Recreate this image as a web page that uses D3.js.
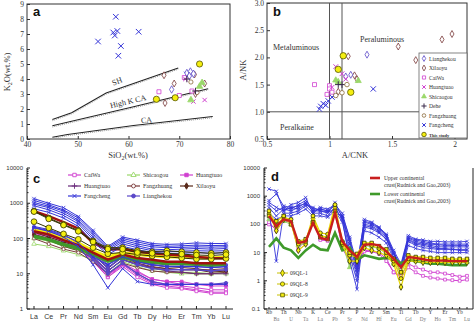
<!DOCTYPE html>
<html>
<head>
<meta charset="utf-8">
<title>Granite geochemistry</title>
<script src="https://d3js.org/d3.v7.min.js"></script>
<style>
  body { margin: 0; background: #fff; }
  svg { display: block; }
  text { font-family: "Liberation Serif", "DejaVu Serif", serif; fill: #333; }
  .sans { font-family: "Liberation Sans", Arial, sans-serif; }
  .axis path, .axis line { stroke: #333; }
</style>
</head>
<body>
<script>
var W = 474, H = 324;
var svg = d3.select("body").append("svg").attr("width", W).attr("height", H);

// ---------- data ----------
// panel a: SiO2 vs K2O
var siFangcheng = [[54,6.5],[57.5,8.15],[57,7.1],[57.3,6.9],[57.8,7.2],[62,7.15],[58.5,6.2],[58,5.55],[71.5,4.3]];
var siLianghekou = [[68.5,3.3],[71.5,4.4],[72.2,4.5],[72.8,4.35],[72,4.2]];
var siXilaoyu = [[67,4.25],[69,3.7],[67.2,2.4],[73.2,3.0],[75,3.7],[73,4.3]];
var siCaiWa = [[66,3.15],[72.5,3.2],[70,2.9],[71,4.1]];
var siHuangtuao = [[72.8,2.5],[75,2.6],[71.2,4.0]];
var siShicaogou = [[72.3,2.6],[74,3.5],[74.5,3.75]];
var siDehe = [[71.5,4.0],[73.2,3.2]];
var siFangzhuang = [[72.3,3.8],[73.5,3.1]];
var siThisStudy = [[65.5,2.65],[69.2,2.75],[74,5.0]];
var lineSH = [[45,1.3],[48.8,1.75],[55.6,3.07],[69.8,4.73]];
var lineHKCA = [[45,0.88],[49,1.2],[61,2.15],[75.7,3.35]];
var lineCA = [[45,0.12],[48,0.3],[61,0.9],[76.6,1.5]];

// panel b: A/CNK vs A/NK
var acXilaoyu = [[1.55,2.2],[1.69,1.95],[1.9,2.33],[1.98,2.43],[1.15,2.02],[1.2,1.67],[1.22,1.6],[1.07,1.37]];
var acLianghekou = [[1.3,2.05],[1.13,1.65],[1.17,1.68]];
var acCaiWa = [[0.88,1.5],[1.0,1.48],[1.0,1.42],[0.98,1.32],[1.02,1.36]];
var acHuangtuao = [[1.05,1.83],[1.1,1.7],[1.13,1.6],[1.02,1.45]];
var acShicaogou = [[1.05,1.58],[1.23,1.57],[1.07,1.55]];
var acDehe = [[1.07,1.5],[1.1,1.5]];
var acFangzhuang = [[1.14,1.5],[1.1,1.35],[1.05,1.3]];
var acFangcheng = [[1.35,1.42],[0.95,1.15],[0.92,1.05],[0.97,1.12],[0.99,1.2],[1.02,1.27],[1.04,1.3],[0.93,1.1]];
var acThisStudy = [[1.11,2.03],[1.07,1.78],[1.17,1.36]];

// panel c: chondrite-normalised REE
var ree = ["La","Ce","Pr","Nd","Sm","Eu","Gd","Tb","Dy","Ho","Er","Tm","Yb","Lu"];
var reeFangcheng = [
  [1350,1000,750,420,170,60,110,90,72,68,70,75,72,72],
  [1200,900,650,380,150,55,100,80,65,60,62,65,63,64],
  [1050,820,600,330,130,50,90,70,58,55,56,58,57,58],
  [950,750,520,300,110,45,80,62,50,48,50,52,50,52],
  [850,650,450,260,95,40,70,55,45,42,44,45,44,45],
  [700,550,380,220,80,35,60,48,40,38,38,40,38,40],
  [220,180,130,75,30,18,30,22,18,16,16,16,15,16],
  [200,160,110,60,18,4,14,6,5,5,5,5,5,5]];
var reeLianghekou = [
  [200,170,120,80,40,18,35,25,20,18,18,18,17,18],
  [180,150,100,70,35,15,30,22,18,16,16,16,15,16],
  [160,130,90,60,30,12,25,18,14,13,13,13,12,13],
  [210,160,110,65,25,10,20,10,6,5,5,5,5,5.5]];
var reeXilaoyu = [
  [150,110,80,60,40,15,30,22,18,16,15,14,12,12],
  [130,100,70,55,30,12,25,18,15,14,13,13,11,12]];
var reeFangzhuang = [
  [120,90,60,45,28,12,25,20,16,14,13,13,13,14],
  [100,70,50,40,22,10,20,15,12,11,11,10,10,11]];
var reeRed = [
  [600,430,290,190,75,48,50,42,38,35,33,30,28,27],
  [160,130,90,65,40,25,35,28,25,22,22,20,20,20]];
var reeCaiWa = [
  [180,140,100,70,30,9,20,10,6,5,4.5,4,3.5,3.5],
  [160,120,90,60,25,8,18,9,5.5,4.5,4,3.5,3,3],
  [140,110,80,55,22,8,16,8,5,4,3.8,3.2,2.8,2.8]];
var reeHuangtuao = [
  [150,120,85,60,28,10,20,12,7,6,6,5,5,5],
  [130,100,75,50,25,9,18,11,7,6,5,5,4.5,4.5]];
var reeDehe = [[170,130,95,65,35,14,30,20,15,12,11,10,10,10]];
var reeShicaogou = [
  [100,85,60,45,30,12,25,18,14,12,11,11,10,11],
  [70,60,45,35,25,10,22,16,12,11,10,10,10,10]];
var reeGreen = [
  [120,95,70,55,40,25,30,25,22,20,20,19,18,19],
  [110,90,65,50,35,22,28,23,21,19,19,18,17,18]];
var reeYellowBand = [[180,140,100,75,45,30,40,35,32,30,30,29,28,30]];
var reeThisStudy = [
  [600,380,250,170,85,55,55,45,42,45,42,40,38,40],
  [300,200,135,95,55,37,40,35,32,30,28,26,26,27],
  [580,360,240,160,80,50,50,40,38,38,36,34,33,35]];

// panel d: primitive-mantle-normalised trace elements
var trace = ["Rb","Ba","Th","U","Nb","Ta","K","La","Ce","Pb","Pr","Sr","P","Nd","Zr","Hf","Sm","Eu","Ti","Gd","Tb","Dy","Y","Ho","Er","Tm","Yb","Lu"];
var trFangcheng = [
  [1800,1500,300,500,600,900,250,400,350,500,250,30,3,150,120,80,45,12,4,40,30,28,25,25,24,24,24,25],
  [500,300,400,350,500,700,350,350,300,450,200,20,2,120,100,70,40,10,3,35,28,25,22,20,20,20,20,20],
  [400,200,350,300,400,600,300,300,250,600,180,12,1.5,100,90,60,35,9,3,30,22,20,18,16,16,16,16,16],
  [300,5,250,250,300,450,250,250,200,400,150,5,0.5,80,70,50,30,7,2,25,18,15,14,13,13,13,13,13],
  [600,400,300,400,350,500,400,300,280,350,160,25,2.5,90,80,55,30,9,3,28,20,18,16,14,14,13,12,12],
  [250,150,200,200,250,350,200,200,180,300,120,8,1,60,50,35,22,6,2,18,14,12,11,10,10,10,10,10],
  [700,1200,450,400,450,550,300,350,300,250,200,35,4,130,110,75,40,10,3.5,33,25,22,20,19,18,18,18,18]];
var trCaiWa = [
  [100,70,150,150,15,25,150,30,30,300,15,6,4,12,12,10,6,2,1.5,4,3,2.5,2,2,1.8,1.6,1.4,1.5],
  [120,60,130,120,12,20,130,28,26,280,14,5,3,11,11,9,5,2,1.3,3,2,1.5,1.3,1.2,1.1,1.05,1,1.1]];
var trShicaogou = [[150,110,130,100,18,22,140,40,35,350,22,3,6,18,16,14,9,4,2,6,5,5,4.5,4.5,4.5,4.5,4.5,4.5]];
var trUCC = [200,87,150,130,22,25,115,33,29,260,25,12,7,19,20,18,11,6,3,7,6.5,5.8,5.2,5.2,5.2,5,5,5];
var trLCC = [16,32,15,12,6.5,12,19,13,12,50,12,15,5.5,8,7,6,6.5,6,4.2,5.5,5,4.5,4,4,3.8,3.6,3.6,3.6];
var trThisStudy = [
  [250,60,150,120,12,20,160,40,35,400,20,5,5,15,12,10,8,4,0.6,5,5,4.5,4.5,4.5,4.5,4.5,4.5,4.5],
  [300,90,180,150,20,25,200,50,45,500,25,8,7,20,18,14,10,5,1.2,6,6,5.5,5.5,5.5,5.5,5.5,5.5,5.5],
  [200,130,200,100,25,30,120,35,30,300,22,10,9,22,22,17,13,6,2,8,7,7,6.5,6.5,6.5,6,6,6]];
var sampleNames = ["09QL-1","09QL-8","09QL-9"];

// ---------- styles ----------
var cBlue = "#3434d8", cPurple = "#5a48c8", cBrown = "#7a3a3a", cMag = "#d040d0",
    cGreenL = "#9ad86a", cDark = "#3a2a4a", cOlive = "#8a6a3a", cYel = "#f4ee10",
    cRed = "#c81e1e", cGreen = "#3f9a2a";
var symX = d3.symbolTimes || d3.symbolX;
var styles = {
  Lianghekou: {sym: d3.symbolDiamond, c: cPurple, fill: "#fff"},
  Xilaoyu: {sym: d3.symbolDiamond, c: cBrown, fill: "#fff"},
  CaiWa: {sym: d3.symbolSquare, c: cMag, fill: "#fff"},
  Huangtuao: {sym: symX, c: cMag, fill: "none"},
  Shicaogou: {sym: d3.symbolTriangle, c: cGreenL, fill: cGreenL},
  Dehe: {sym: d3.symbolPlus, c: cDark, fill: cDark},
  Fangzhuang: {sym: d3.symbolCircle, c: cOlive, fill: "#fff"},
  Fangcheng: {sym: symX, c: cBlue, fill: "none"},
  "This study": {sym: d3.symbolCircle, c: "#555500", fill: cYel}
};

function marker(g, style, x, y, size) {
  var s = style.sym === symX || style.sym === d3.symbolPlus;
  g.append("path")
    .attr("d", d3.symbol().type(style.sym).size(size)())
    .attr("transform", "translate(" + x + "," + y + ")")
    .attr("fill", s ? "none" : style.fill)
    .attr("stroke", style.c)
    .attr("stroke-width", s ? 1 : 0.8);
}

function scatter(g, pts, name, x, y, size) {
  pts.forEach(function(p) { marker(g, styles[name], x(p[0]), y(p[1]), size); });
}

function panelLetter(g, t, x, y) {
  g.append("text").attr("class", "sans").attr("x", x).attr("y", y)
    .attr("font-size", 13).attr("font-weight", "bold").style("fill", "#111").text(t);
}

// ---------- panel a ----------
(function() {
  var g = svg.append("g");
  var x = d3.scaleLinear().domain([40, 80]).range([27, 230]);
  var y = d3.scaleLinear().domain([0, 9]).range([139, 4]);
  g.append("rect").attr("x", 27).attr("y", 4).attr("width", 203).attr("height", 135)
    .attr("fill", "none").attr("stroke", "#333");
  g.append("g").attr("class", "axis").attr("transform", "translate(0,139)")
    .call(d3.axisBottom(x).tickValues([40,50,60,70,80]).tickSize(-3).tickPadding(3))
    .call(function(a) { a.select(".domain").remove(); a.selectAll("text").attr("font-size", 7.5).style("font-family", "Liberation Serif"); });
  g.append("g").attr("class", "axis").attr("transform", "translate(27,0)")
    .call(d3.axisLeft(y).ticks(9).tickSize(-3).tickPadding(3))
    .call(function(a) { a.select(".domain").remove(); a.selectAll("text").attr("font-size", 7.5).style("font-family", "Liberation Serif"); });

  var line = d3.line().x(function(d) { return x(d[0]); }).y(function(d) { return y(d[1]); });
  [lineSH, lineHKCA, lineCA].forEach(function(l) {
    g.append("path").attr("d", line(l)).attr("fill", "none").attr("stroke", "#222").attr("stroke-width", 1.1);
    g.append("path").attr("d", line(l)).attr("fill", "none").attr("stroke", "#999")
      .attr("stroke-width", 1).attr("stroke-dasharray", "1,1").attr("transform", "translate(0,1.2)");
  });
  g.append("text").attr("x", x(57)).attr("y", y(3.55)).attr("font-size", 8)
    .attr("transform", "rotate(-22," + x(57) + "," + y(3.55) + ")").text("SH");
  g.append("text").attr("x", x(56.5)).attr("y", y(2.05)).attr("font-size", 8)
    .attr("transform", "rotate(-13," + x(56.5) + "," + y(2.05) + ")").text("High K CA");
  g.append("text").attr("x", x(62.5)).attr("y", y(1.05)).attr("font-size", 8)
    .attr("transform", "rotate(-6," + x(62.5) + "," + y(1.05) + ")").text("CA");

  scatter(g, siFangcheng, "Fangcheng", x, y, 22);
  scatter(g, siXilaoyu, "Xilaoyu", x, y, 14);
  scatter(g, siCaiWa, "CaiWa", x, y, 16);
  scatter(g, siHuangtuao, "Huangtuao", x, y, 14);
  scatter(g, siShicaogou, "Shicaogou", x, y, 18);
  scatter(g, siFangzhuang, "Fangzhuang", x, y, 14);
  scatter(g, siLianghekou, "Lianghekou", x, y, 16);
  scatter(g, siDehe, "Dehe", x, y, 16);
  scatter(g, siThisStudy, "This study", x, y, 30);

  panelLetter(g, "a", 33, 16);
  var t = g.append("text").attr("x", 128).attr("y", 158).attr("text-anchor", "middle").attr("font-size", 8.5);
  t.append("tspan").text("SiO");
  t.append("tspan").attr("font-size", 6).attr("dy", 2).text("2");
  t.append("tspan").attr("dy", -2).text("(wt.%)");
  var ty = g.append("text").attr("transform", "translate(10,72) rotate(-90)").attr("text-anchor", "middle").attr("font-size", 8.5);
  ty.append("tspan").text("K");
  ty.append("tspan").attr("font-size", 6).attr("dy", 2).text("2");
  ty.append("tspan").attr("dy", -2).text("O(wt.%)");
})();

// ---------- panel b ----------
(function() {
  var g = svg.append("g");
  var x = d3.scaleLinear().domain([0.5, 2.1]).range([267, 467]);
  var y = d3.scaleLinear().domain([0.5, 3.0]).range([139, 3]);
  g.append("rect").attr("x", 267).attr("y", 3).attr("width", 200).attr("height", 136)
    .attr("fill", "none").attr("stroke", "#333");
  g.append("g").attr("class", "axis").attr("transform", "translate(0,139)")
    .call(d3.axisBottom(x).tickValues([0.5,1,1.5,2]).tickFormat(d3.format("")).tickSize(-3).tickPadding(3))
    .call(function(a) { a.select(".domain").remove(); a.selectAll("text").attr("font-size", 7.5).style("font-family", "Liberation Serif"); });
  g.append("g").attr("class", "axis").attr("transform", "translate(267,0)")
    .call(d3.axisLeft(y).tickValues([0.5,1,1.5,2,2.5,3]).tickFormat(d3.format(".1f")).tickSize(-3).tickPadding(3))
    .call(function(a) { a.select(".domain").remove(); a.selectAll("text").attr("font-size", 7.5).style("font-family", "Liberation Serif"); });

  [1.0, 1.1].forEach(function(v) {
    g.append("line").attr("x1", x(v)).attr("x2", x(v)).attr("y1", 3).attr("y2", 139).attr("stroke", "#555");
  });
  g.append("line").attr("x1", 267).attr("x2", 467).attr("y1", y(1)).attr("y2", y(1)).attr("stroke", "#555");

  g.append("text").attr("x", 273).attr("y", 50).attr("font-size", 8).text("Metaluminous");
  g.append("text").attr("x", 360).attr("y", 42).attr("font-size", 8).text("Peraluminous");
  g.append("text").attr("x", 280).attr("y", 130).attr("font-size", 8).text("Peralkaine");

  scatter(g, acFangcheng, "Fangcheng", x, y, 20);
  scatter(g, acXilaoyu, "Xilaoyu", x, y, 14);
  scatter(g, acLianghekou, "Lianghekou", x, y, 14);
  scatter(g, acCaiWa, "CaiWa", x, y, 16);
  scatter(g, acHuangtuao, "Huangtuao", x, y, 16);
  scatter(g, acShicaogou, "Shicaogou", x, y, 16);
  scatter(g, acDehe, "Dehe", x, y, 16);
  scatter(g, acFangzhuang, "Fangzhuang", x, y, 16);
  scatter(g, acThisStudy, "This study", x, y, 32);

  // legend
  g.append("rect").attr("x", 419).attr("y", 53).attr("width", 48).attr("height", 85)
    .attr("fill", "#fff").attr("stroke", "#666").attr("stroke-width", 0.8);
  var names = ["Lianghekou","Xilaoyu","CaiWa","Huangtuao","Shicaogou","Dehe","Fangzhuang","Fangcheng","This study"];
  names.forEach(function(n, i) {
    var yy = 58.5 + i * 9.5;
    marker(g, styles[n], 424, yy, n === "This study" ? 16 : 10);
    g.append("text").attr("x", 429).attr("y", yy + 2).attr("font-size", n === "This study" ? 4.5 : 5.6)
      .attr("font-weight", n === "This study" ? "bold" : null).text(n);
  });

  panelLetter(g, "b", 273, 16);
  g.append("text").attr("x", 355).attr("y", 158).attr("text-anchor", "middle").attr("font-size", 8.5).text("A/CNK");
  g.append("text").attr("transform", "translate(246,70) rotate(-90)").attr("text-anchor", "middle").attr("font-size", 8.5).text("A/NK");
})();

// ---------- shared helpers for spider plots ----------
function logAxis(g, y, x0, decades, top, bottom) {
  g.append("line").attr("x1", x0).attr("x2", x0).attr("y1", top).attr("y2", bottom).attr("stroke", "#222");
  decades.forEach(function(d, i) {
    g.append("line").attr("x1", x0).attr("x2", x0 + 3).attr("y1", y(d)).attr("y2", y(d)).attr("stroke", "#222");
    g.append("text").attr("class", "sans").attr("x", x0 - 4).attr("y", y(d) + 2)
      .attr("text-anchor", "end").attr("font-size", 6).text(d >= 1 ? d3.format("d")(d) : d);
    if (i < decades.length - 1) {
      for (var k = 2; k < 10; k++) {
        g.append("line").attr("x1", x0).attr("x2", x0 + 1.5).attr("y1", y(d * k)).attr("y2", y(d * k)).attr("stroke", "#222");
      }
    }
  });
}

function spider(g, x, y, keys, rows, color, width, sym, size, fill) {
  var line = d3.line().x(function(d, i) { return x(keys[i]); }).y(function(d) { return y(d); });
  rows.forEach(function(r) {
    g.append("path").attr("d", line(r)).attr("fill", "none").attr("stroke", color).attr("stroke-width", width);
    if (sym) {
      r.forEach(function(v, i) {
        var s = sym === symX || sym === d3.symbolPlus;
        g.append("path").attr("d", d3.symbol().type(sym).size(size)())
          .attr("transform", "translate(" + x(keys[i]) + "," + y(v) + ")")
          .attr("fill", s ? "none" : fill).attr("stroke", s ? color : (fill === cYel ? "#333300" : color))
          .attr("stroke-width", 0.8);
      });
    }
  });
}

// ---------- panel c ----------
(function() {
  var g = svg.append("g");
  var x = d3.scalePoint().domain(ree).range([34, 226]);
  var y = d3.scaleLog().domain([1, 10000]).range([309, 168]);
  logAxis(g, y, 27, [1, 10, 100, 1000, 10000], 168, 309);
  g.append("line").attr("x1", 27).attr("x2", 233).attr("y1", 309).attr("y2", 309).attr("stroke", "#222");
  ree.forEach(function(e) {
    g.append("line").attr("x1", x(e)).attr("x2", x(e)).attr("y1", 309).attr("y2", 306).attr("stroke", "#222");
    g.append("text").attr("class", "sans").attr("x", x(e)).attr("y", 319)
      .attr("text-anchor", "middle").attr("font-size", 7).text(e);
  });

  spider(g, x, y, ree, reeCaiWa, cMag, 1, d3.symbolSquare, 9, "#fff");
  spider(g, x, y, ree, reeHuangtuao, cMag, 1, d3.symbolSquare, 8, cMag);
  spider(g, x, y, ree, reeShicaogou, cGreenL, 1, d3.symbolTriangle, 9, "#fff");
  spider(g, x, y, ree, reeFangzhuang, cBrown, 1, d3.symbolCircle, 8, "#fff");
  spider(g, x, y, ree, reeXilaoyu, "#5a2a1a", 1, d3.symbolDiamond, 8, "#5a2a1a");
  spider(g, x, y, ree, reeDehe, "#6a2a7a", 1, d3.symbolPlus, 10);
  spider(g, x, y, ree, reeLianghekou, cPurple, 1.3, d3.symbolCircle, 8, cPurple);
  spider(g, x, y, ree, reeGreen, cGreen, 2.5);
  spider(g, x, y, ree, reeYellowBand, cYel, 3);
  spider(g, x, y, ree, reeRed, "#a01010", 2.5);
  spider(g, x, y, ree, reeFangcheng, cBlue, 1, symX, 10);
  spider(g, x, y, ree, reeThisStudy, "#333300", 1, d3.symbolCircle, 26, cYel);

  // legend
  var leg = [["CaiWa", cMag, d3.symbolSquare, "#fff"], ["Shicaogou", cGreenL, d3.symbolTriangle, "#fff"], ["Huangtuao", cMag, d3.symbolSquare, cMag],
             ["Huangtuao", "#6a2a7a", d3.symbolPlus, null], ["Fangzhuang", cBrown, d3.symbolCircle, "#fff"], ["Xilaoyu", "#5a2a1a", d3.symbolDiamond, "#5a2a1a"],
             ["Fangcheng", cBlue, symX, null], ["Lianghekou", cPurple, d3.symbolCircle, cPurple]];
  var colX = [68, 127, 180], rowY = [175, 186, 196];
  leg.forEach(function(l, i) {
    var cx = colX[i % 3], cy = rowY[Math.floor(i / 3)];
    g.append("line").attr("x1", cx).attr("x2", cx + 13).attr("y1", cy).attr("y2", cy).attr("stroke", l[1]).attr("stroke-width", 1.2);
    var s = l[3] === null;
    g.append("path").attr("d", d3.symbol().type(l[2]).size(12)()).attr("transform", "translate(" + (cx + 6.5) + "," + cy + ")")
      .attr("fill", s ? "none" : l[3]).attr("stroke", l[1]).attr("stroke-width", 0.9);
    g.append("text").attr("x", cx + 16).attr("y", cy + 2).attr("font-size", 6).text(l[0]);
  });

  panelLetter(g, "c", 33, 183);
})();

// ---------- panel d ----------
(function() {
  var g = svg.append("g");
  var x = d3.scalePoint().domain(trace).range([269, 467]);
  var y = d3.scaleLog().domain([0.1, 10000]).range([309, 168]);
  logAxis(g, y, 264, [0.1, 1, 10, 100, 1000, 10000], 168, 309);
  g.append("line").attr("x1", 264).attr("x2", 473).attr("y1", 309).attr("y2", 309).attr("stroke", "#222");
  g.append("line").attr("x1", 473).attr("x2", 473).attr("y1", 168).attr("y2", 309).attr("stroke", "#222");
  trace.forEach(function(e, i) {
    g.append("line").attr("x1", x(e)).attr("x2", x(e)).attr("y1", 309).attr("y2", 307).attr("stroke", "#222");
    g.append("text").attr("x", x(e)).attr("y", i % 2 === 0 ? 313.5 : 320.5)
      .attr("text-anchor", "middle").attr("font-size", 5.2).style("fill", i % 2 === 0 ? "#333" : "#777").text(e);
  });

  spider(g, x, y, trace, trCaiWa, cMag, 1, d3.symbolSquare, 8, "#fff");
  spider(g, x, y, trace, trShicaogou, cGreenL, 1, d3.symbolTriangle, 9, cGreenL);
  spider(g, x, y, trace, trFangcheng, cBlue, 0.9, symX, 9);
  spider(g, x, y, trace, [trLCC], cGreen, 2.6);
  var syms = [d3.symbolDiamond, d3.symbolCircle, d3.symbolSquare];
  trThisStudy.forEach(function(r, i) {
    spider(g, x, y, trace, [r], "#e8d800", 1.2, syms[i], 12, cYel);
  });
  spider(g, x, y, trace, [trUCC], cRed, 2.4);

  // legend
  [["Upper continental", cRed], ["Lower continental", cGreen]].forEach(function(l, i) {
    var yy = 178 + i * 16;
    g.append("line").attr("x1", 370).attr("x2", 380).attr("y1", yy).attr("y2", yy).attr("stroke", l[1]).attr("stroke-width", 2.6);
    g.append("text").attr("x", 384).attr("y", yy + 2).attr("font-size", 5.6).text(l[0]);
    g.append("text").attr("x", 384).attr("y", yy + 9).attr("font-size", 5.6).text("crust(Rudnick and Gao,2003)");
  });
  sampleNames.forEach(function(n, i) {
    var yy = 273 + i * 11;
    g.append("line").attr("x1", 277).attr("x2", 288).attr("y1", yy).attr("y2", yy).attr("stroke", "#c8c000").attr("stroke-width", 1);
    g.append("path").attr("d", d3.symbol().type(syms[i]).size(14)()).attr("transform", "translate(282.5," + yy + ")")
      .attr("fill", cYel).attr("stroke", "#555500").attr("stroke-width", 0.8);
    g.append("text").attr("x", 290).attr("y", yy + 2).attr("font-size", 5.6).text(n);
  });

  panelLetter(g, "d", 271, 181);
})();
</script>
</body>
</html>
